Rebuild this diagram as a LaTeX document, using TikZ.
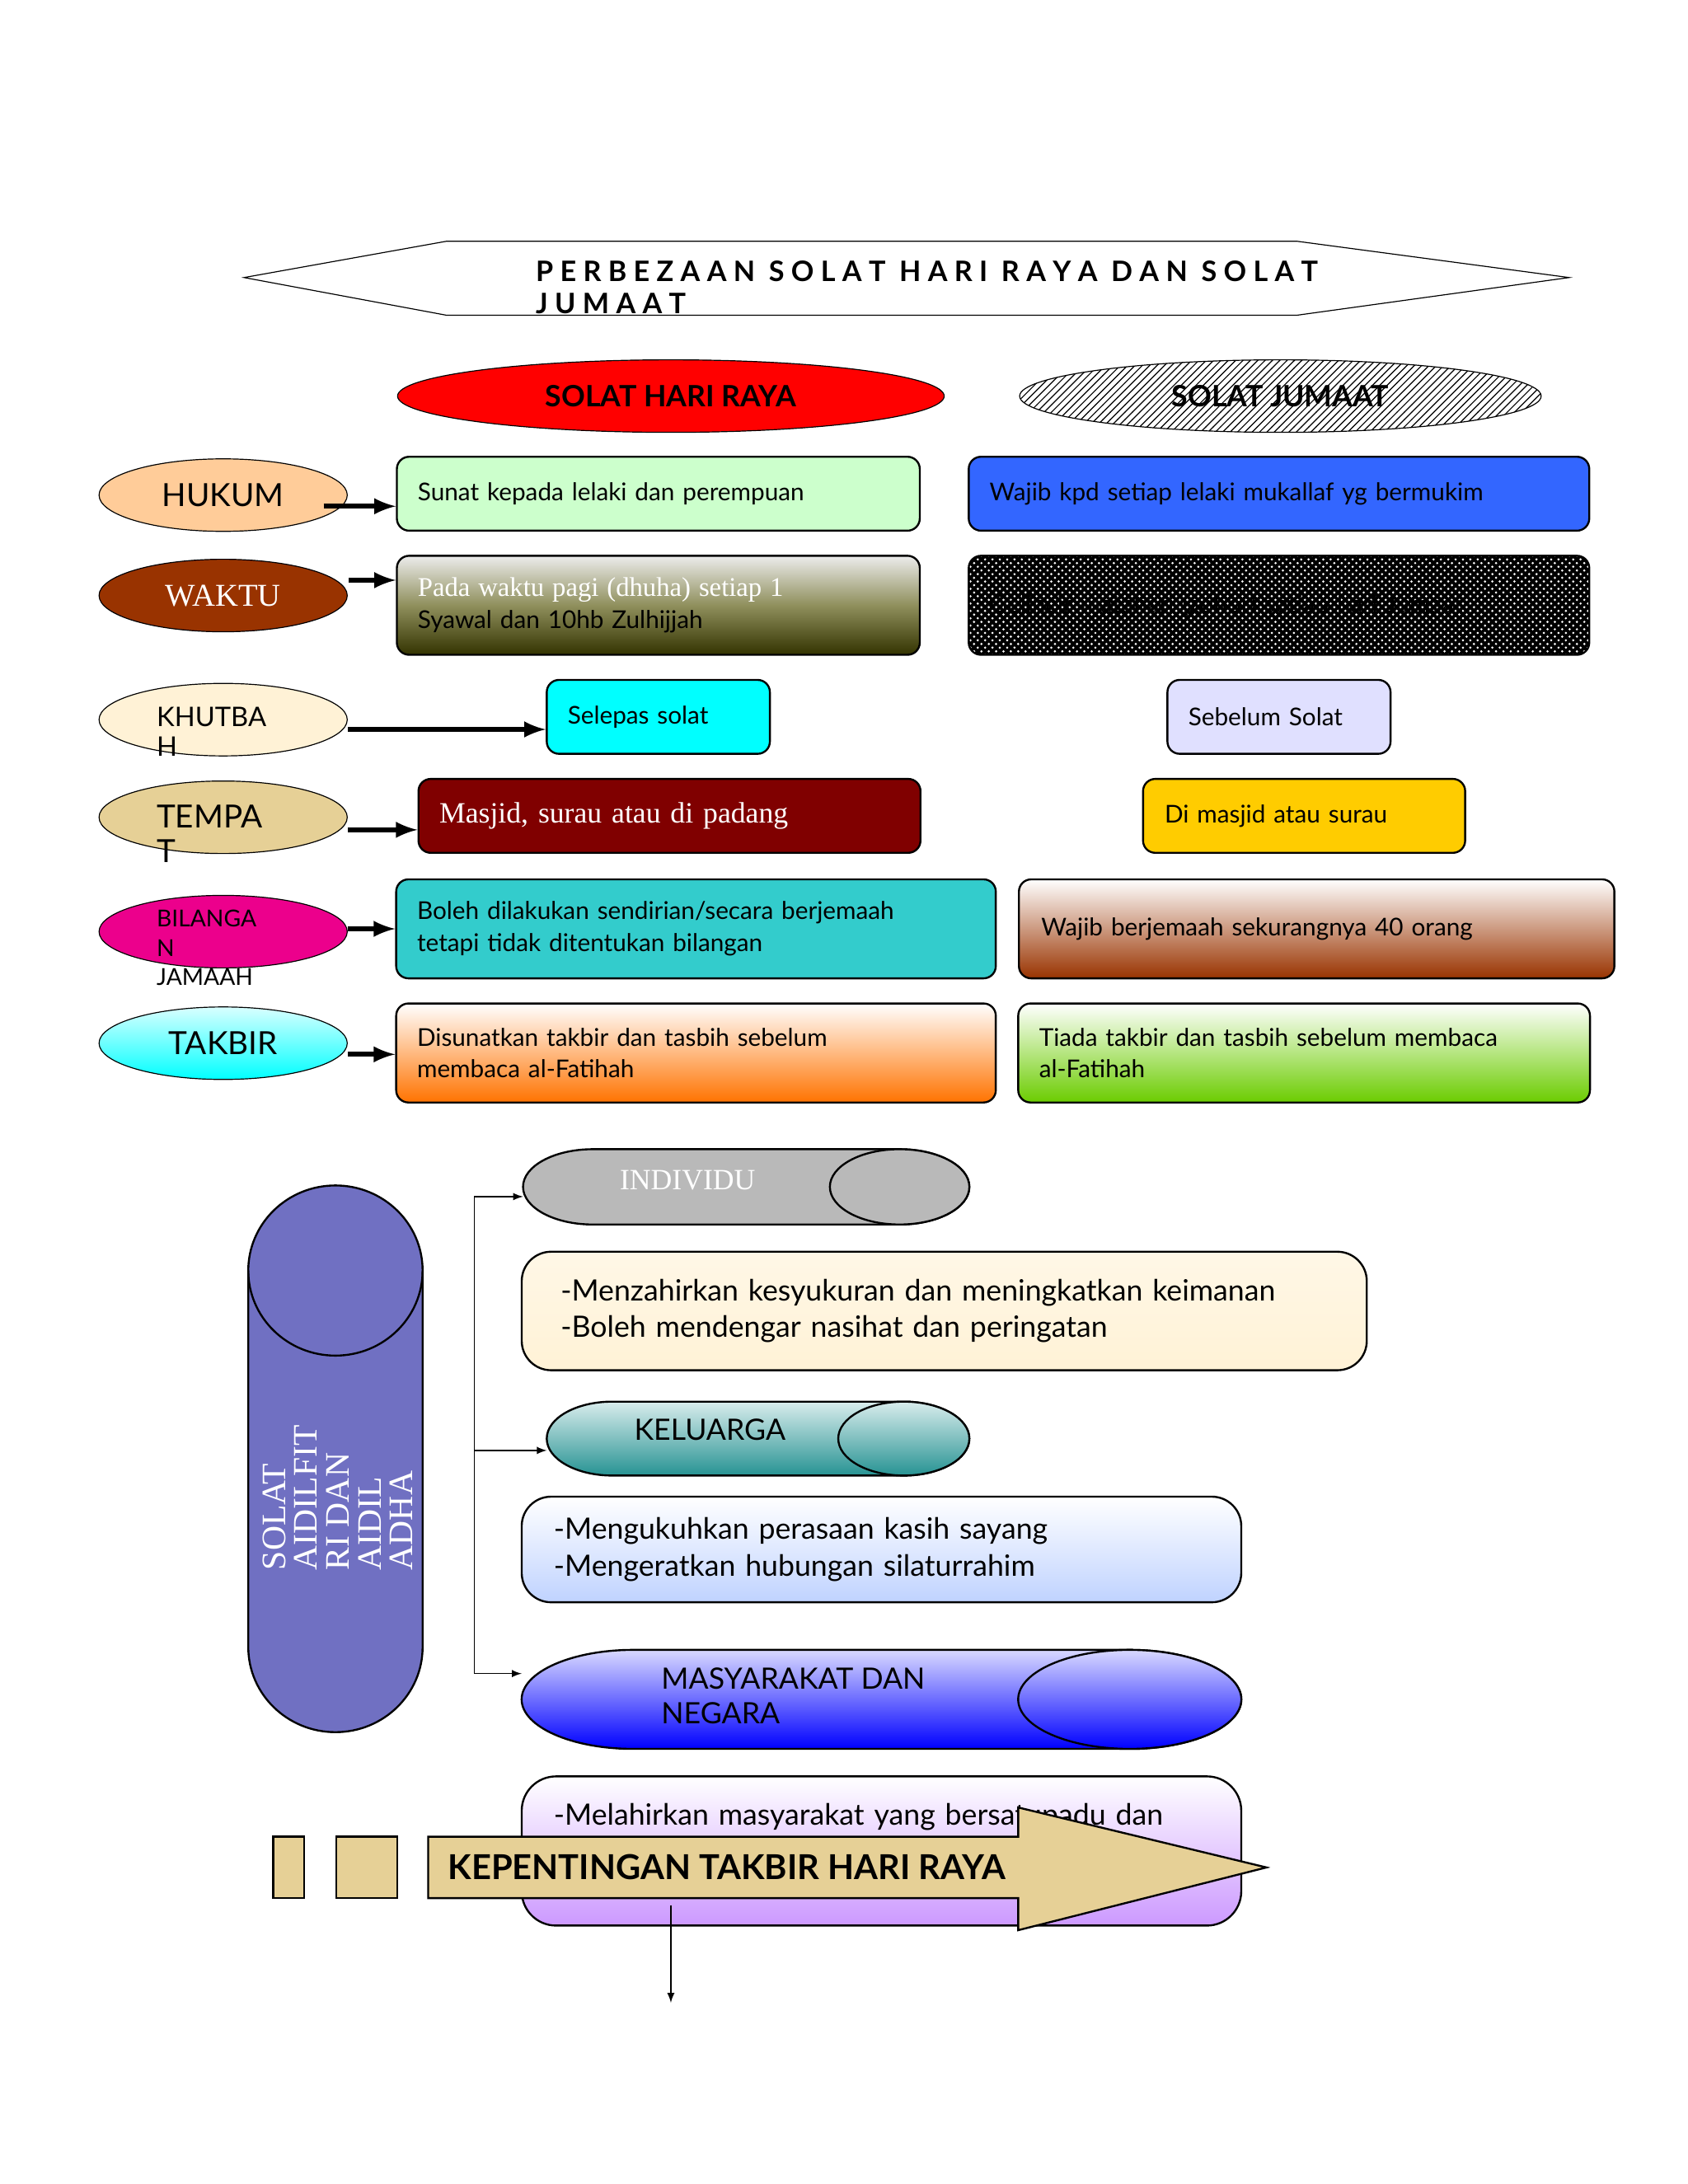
\documentclass[tikz,border=0pt]{standalone}
\usepackage{fontspec}
\setmainfont{Lato}
\newfontfamily\serifo{Liberation Serif}
\usetikzlibrary{shapes.geometric,patterns,backgrounds,positioning}

\definecolor{hijau}{RGB}{204,255,204}
\definecolor{sian}{RGB}{0,255,255}
\definecolor{teal2}{RGB}{51,204,204}
\definecolor{biru}{RGB}{51,102,255}
\definecolor{kuning}{RGB}{255,204,0}
\definecolor{perang}{RGB}{153,51,0}
\definecolor{pic}{RGB}{255,204,153}
\definecolor{krim}{RGB}{255,242,214}
\definecolor{tan}{RGB}{230,208,150}
\definecolor{ungu}{RGB}{204,153,255}

\tikzset{
    box/.style={rectangle,rounded corners=5pt,draw,thick,align=left,inner sep=0.3cm,font=\fontsize{10}{13}\selectfont},
    lbl/.style={ellipse,draw,minimum width=3.56cm,minimum height=1.04cm,inner sep=0pt},
    lbltext/.style={anchor=north west,align=left,inner sep=0pt,font=\fontsize{10}{11}\selectfont},
    con/.style={->,line width=2pt,>=latex},
    col/.style={line width=2.5pt},
}

\begin{document}
\begin{tikzpicture}[x=0.02cm,y=-0.02cm]
    \useasboundingbox[fill=white] (0,0) rectangle (1210,1566);

    % title
    \draw[fill=white] (175,199) -- (320,173) -- (930,173) -- (1125,199) -- (930,226) -- (320,226) -- cycle;
    \node[anchor=west,align=left,font=\bfseries\fontsize{11.5}{13}\selectfont] (title) at (378,206) {P E R B E Z A A N\ \ S O L A T\ \ H A R I\ \ R A Y A\ \ D A N\ \ S O L A T\\J U M A A T};

    \node[ellipse,draw,fill=red,minimum width=7.84cm,minimum height=1.04cm,font=\bfseries\fontsize{12}{12}\selectfont] (hariraya) at (481,284) {SOLAT HARI RAYA};
    \node[ellipse,draw,pattern=north east lines,minimum width=7.48cm,minimum height=1.04cm,font=\bfseries\fontsize{12}{12}\selectfont] (jumaat) at (918,284) {SOLAT JUMAAT};

    % left column
    \node[box,fill=hijau,minimum width=7.48cm,minimum height=1.06cm,text width=6.9cm] (sunat) at (472,354) {Sunat kepada lelaki dan perempuan};
    \node[box,top color=white!85!gray,bottom color=black!60!olive,minimum width=7.48cm,minimum height=1.42cm,text width=6.9cm] (pagi) at (472,434) {\serifo\color{white}\fontsize{11}{13}\selectfont Pada waktu pagi (dhuha) setiap 1\\\color{black}\rmfamily\fontsize{10}{13}\selectfont Syawal dan 10hb Zulhijjah};
    \node[box,fill=sian,minimum width=3.2cm,minimum height=1.06cm,text width=2.6cm] (selepas) at (472,514) {Selepas solat};
    \node[box,fill=red!50!black,text=white,minimum width=7.14cm,minimum height=1.06cm,text width=6.6cm,font=\serifo\fontsize{12}{14}\selectfont] (masjid) at (480,585) {Masjid, surau atau di padang};
    \node[box,fill=teal2,minimum width=8.56cm,minimum height=1.42cm,text width=8cm] (boleh) at (499,666) {Boleh dilakukan sendirian/secara berjemaah\\tetapi tidak ditentukan bilangan};
    \node[box,top color=white,bottom color=orange!90!red,minimum width=8.56cm,minimum height=1.42cm,text width=8cm] (sunattakbir) at (499,755) {Disunatkan takbir dan tasbih sebelum\\membaca al-Fatihah};

    % right column
    \node[box,fill=biru,minimum width=8.9cm,minimum height=1.06cm,text width=8.3cm] (wajib) at (917,354) {Wajib kpd setiap lelaki mukallaf yg bermukim};
    \node[box,preaction={fill=black},pattern=crosshatch dots,pattern color=white,minimum width=8.9cm,minimum height=1.42cm,text width=8.3cm] (zohor) at (917,434) {Gelincir matahari (zohor) setiap hari Jumaat};
    \node[box,fill=blue!12,minimum width=3.2cm,minimum height=1.06cm,text width=2.6cm] (sebelum) at (917,514) {Sebelum Solat};
    \node[box,fill=kuning,minimum width=4.62cm,minimum height=1.06cm,text width=4cm] (dimasjid) at (935,585) {Di masjid atau surau};
    \node[box,top color=white,bottom color=perang,minimum width=8.54cm,minimum height=1.42cm,text width=7.9cm] (berjemaah) at (944,666) {Wajib berjemaah sekurangnya 40 orang};
    \node[box,top color=white,bottom color=lime!70!green!80!black,minimum width=8.18cm,minimum height=1.42cm,text width=7.6cm] (tiada) at (935,755) {Tiada takbir dan tasbih sebelum membaca\\al-Fatihah};

    \begin{scope}[on background layer]
        \draw[col] (hariraya.south) -- (hariraya.south |- sunattakbir.north);
        \draw[col] (927,310) -- (927,720);
    \end{scope}

    % labels
    \node[lbl,fill=pic,font=\fontsize{13}{13}\selectfont] (hukum) at (160,355) {HUKUM};
    \node[lbl,fill=perang,text=white,font=\serifo\fontsize{13}{13}\selectfont] (waktu) at (160,427) {WAKTU};
    \node[lbl,fill=krim] (khutbah) at (160,516) {};
    \node[lbltext,font=\fontsize{11}{12}\selectfont] (khutbahT) at (112,507) {KHUTBA\\H};
    \node[lbl,fill=tan] (tempat) at (160,586) {};
    \node[lbltext,font=\fontsize{13}{14}\selectfont] (tempatT) at (112,577) {TEMPA\\T};
    \node[lbl,fill=magenta] (bilangan) at (160,668) {};
    \node[lbltext,font=\fontsize{9.5}{12}\selectfont] (bilanganT) at (112,652) {BILANGA\\N\\JAMAAH};
    \node[lbl,top color=cyan!15,bottom color=sian,font=\fontsize{13}{13}\selectfont] (takbir) at (160,748) {TAKBIR};

    \draw[con] (232,363) -- (sunat.west |- 0,363);
    \draw[con] (250,416) -- (pagi.west |- 0,416);
    \draw[con] (khutbah.east |- 0,523) -- (selepas.west |- 0,523);
    \draw[con] (tempat.east |- 0,595) -- (masjid.west |- 0,595);
    \draw[con] (bilangan.east |- 0,666) -- (boleh.west |- 0,666);
    \draw[con] (takbir.east |- 0,756) -- (sunattakbir.west |- 0,756);

    % solat aidilfitri / aidiladha
    \fill[blue!40!gray!80] (178,911) rectangle (303,1181);
    \fill[blue!40!gray!80] (240.5,1181) ellipse[x radius=62.5,y radius=61];
    \draw[thick,fill=blue!40!gray!80] (240.5,911) ellipse[x radius=62.5,y radius=61];
    \draw[thick] (178,911) -- (178,1181) arc[start angle=180,end angle=0,x radius=62.5,y radius=61] -- (303,911);
    \node[rotate=90,anchor=north west,align=left,text=white,font=\serifo\fontsize{14}{13}\selectfont] (aidil) at (182,1132) {SOLAT\\AIDILFIT\\RI DAN\\AIDIL\\ADHA};

    % individu
    \draw[thick,fill=gray!55] (645,824) -- (425,824) arc[start angle=270,end angle=90,x radius=50,y radius=27] -- (645,878) arc[start angle=90,end angle=-90,x radius=50,y radius=27];
    \draw[thick,fill=gray!55] (645,851) ellipse[x radius=50,y radius=27];
    \node[text=white,font=\serifo\fontsize{12}{12}\selectfont] (individu) at (493,846) {INDIVIDU};
    \node[box,rounded corners=12pt,top color=krim!60,bottom color=krim,minimum width=12.12cm,minimum height=1.7cm,text width=11cm,font=\fontsize{12}{15}\selectfont] (isi1) at (677,940) {-Menzahirkan kesyukuran dan meningkatkan keimanan\\-Boleh mendengar nasihat dan peringatan};

    % keluarga
    \draw[thick,top color=teal!15,bottom color=teal!85] (648,1005) -- (439,1005) arc[start angle=270,end angle=90,x radius=47,y radius=26.5] -- (648,1058) arc[start angle=90,end angle=-90,x radius=47,y radius=26.5];
    \draw[thick,top color=teal!15,bottom color=teal!85] (648,1031.5) ellipse[x radius=47,y radius=26.5];
    \node[font=\fontsize{12}{12}\selectfont] (keluarga) at (509,1025) {KELUARGA};
    \node[box,rounded corners=12pt,top color=white,bottom color=cyan!30!blue!25,minimum width=10.32cm,minimum height=1.38cm,text width=9.4cm,font=\fontsize{12}{15}\selectfont] (isi2) at (632,1111) {-Mengukuhkan perasaan kasih sayang\\-Mengeratkan hubungan silaturrahim};

    % masyarakat
    \draw[thick,top color=blue!15,bottom color=blue] (810,1183) -- (454,1183) arc[start angle=270,end angle=90,x radius=80,y radius=35.5] -- (810,1254) arc[start angle=90,end angle=-90,x radius=80,y radius=35.5];
    \draw[thick,top color=blue!15,bottom color=blue] (810,1218.5) ellipse[x radius=80,y radius=35.5];
    \node[anchor=west,align=left,font=\fontsize{12}{14}\selectfont] (masyarakat) at (468,1216) {MASYARAKAT DAN\\NEGARA};
    \node[box,rounded corners=14pt,top color=white,bottom color=ungu,minimum width=10.32cm,minimum height=2.14cm,text width=9.4cm,font=\fontsize{12}{15}\selectfont,anchor=north] (isi3) at (632,1273) {-Melahirkan masyarakat yang bersatupadu dan\\\phantom{x}\\\phantom{x}};

    \coordinate (bus) at (340,858);
    \draw[thin] (bus) -- (340,1200);
    \draw[->,>=latex] (bus) -- (375,858);
    \draw[->,>=latex] (340,1040) -- (392,1040);
    \draw[->,>=latex] (340,1200) -- (374,1200);

    % kepentingan takbir
    \draw[thick,fill=tan] (196,1317) rectangle (218,1361);
    \draw[thick,fill=tan] (241,1317) rectangle (285,1361);
    \draw[thick,fill=tan] (307,1317) -- (730,1317) -- (730,1296) -- (908,1339) -- (730,1384) -- (730,1361) -- (307,1361) -- cycle;
    \node[anchor=west,font=\bfseries\fontsize{14}{14}\selectfont] (kepentingan) at (315,1339) {KEPENTINGAN TAKBIR HARI RAYA};
    \coordinate (bawah) at (481,1436);
    \draw[->,>=latex] (481,1366) -- (bawah);
\end{tikzpicture}
\end{document}
